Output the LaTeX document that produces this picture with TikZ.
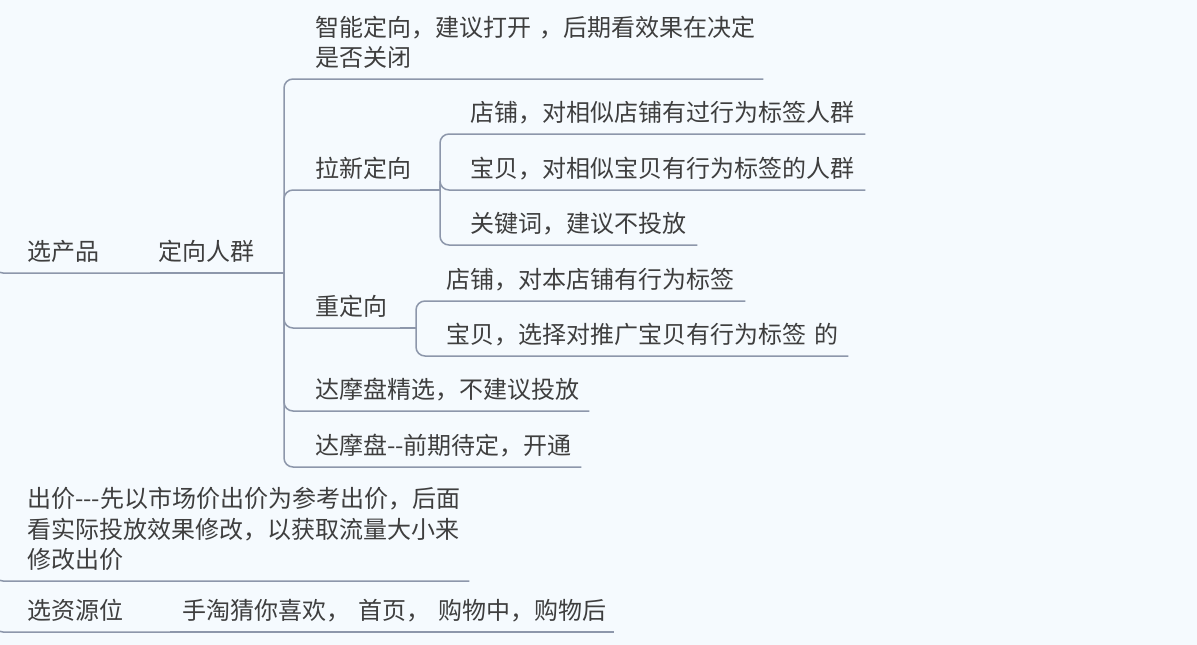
\documentclass[tikz,border=0pt]{standalone}
\usepackage{fontspec}
\newfontfamily\cjk{Noto Sans CJK SC}
\usetikzlibrary{positioning}
\definecolor{linkgray}{RGB}{141,151,171}
\definecolor{textgray}{RGB}{62,62,62}
\definecolor{bgblue}{RGB}{245,250,254}

\begin{document}
\begin{tikzpicture}[x=1pt,y=-1pt,
  topic/.style={anchor=south west,inner xsep=0pt,inner ysep=10pt,align=left,
    text width=#1,font=\cjk\fontsize{24pt}{30.5pt}\selectfont,text=textgray},
  link/.style={draw=linkgray,line width=1.5pt,rounded corners=9pt}]
  % Background
  \fill[bgblue] (0,0) rectangle (1197,645);
  \clip (0,0) rectangle (1197,645);
  % Main branches
  \coordinate (root) at (-6,200);
  \node[topic=123pt] (xcp) at (27,273) {选产品};
  \node[topic=107pt] (dxrq) at (158,273) {定向人群};
  \node[topic=442pt] (cj) at (27,581)
    {出价-\kern0pt-\kern0pt-先以市场价出价为参考出价，后面\\看实际投放效果修改，以获取流量大小来\\修改出价};
  \node[topic=143pt] (xzy) at (27,632) {选资源位};
  \node[topic=432pt] (sy) at (182,632) {手淘猜你喜欢， 首页， 购物中，购物后};
  % Targeting
  \node[topic=448pt] (znd) at (315,79) {智能定向，建议打开 ，后期看效果在决定\\是否关闭};
  \node[topic=105pt] (lxd) at (315,190) {拉新定向};
  \node[topic=85pt] (cdx) at (315,328) {重定向};
  \node[topic=274pt] (dmjx) at (315,411) {达摩盘精选，不建议投放};
  \node[topic=266pt] (dmqq) at (315,467) {达摩盘-\kern0pt-前期待定，开通};
  % New customers
  \node[topic=395pt] (lxdp) at (470,134) {店铺，对相似店铺有过行为标签人群};
  \node[topic=395pt] (lxbb) at (470,190) {宝贝，对相似宝贝有行为标签的人群};
  \node[topic=227pt] (lxgj) at (470,245) {关键词，建议不投放};
  % Retargeting
  \node[topic=299pt] (cddp) at (446,301) {店铺，对本店铺有行为标签};
  \node[topic=402pt] (cdbb) at (446,356) {宝贝，选择对推广宝贝有行为标签 的};
  % Junctions
  \coordinate (dxj) at (284,273);
  \coordinate (lxj) at (440,190);
  \coordinate (cdj) at (416,328);
  % Connectors
  \foreach \c in {xcp,cj,xzy} \draw[link] (root) |- (\c.south east);
  \draw[link] (xcp.south east) -- (dxrq.south east);
  \draw[link] (xzy.south east) -- (sy.south east);
  \draw[link] (dxrq.south east) -- (dxj);
  \foreach \c in {znd,lxd,cdx,dmjx,dmqq} \draw[link] (dxj) |- (\c.south east);
  \draw[link] (lxd.south east) -- (lxj);
  \foreach \c in {lxdp,lxbb,lxgj} \draw[link] (lxj) |- (\c.south east);
  \draw[link] (cdx.south east) -- (cdj);
  \foreach \c in {cddp,cdbb} \draw[link] (cdj) |- (\c.south east);
\end{tikzpicture}
\end{document}
